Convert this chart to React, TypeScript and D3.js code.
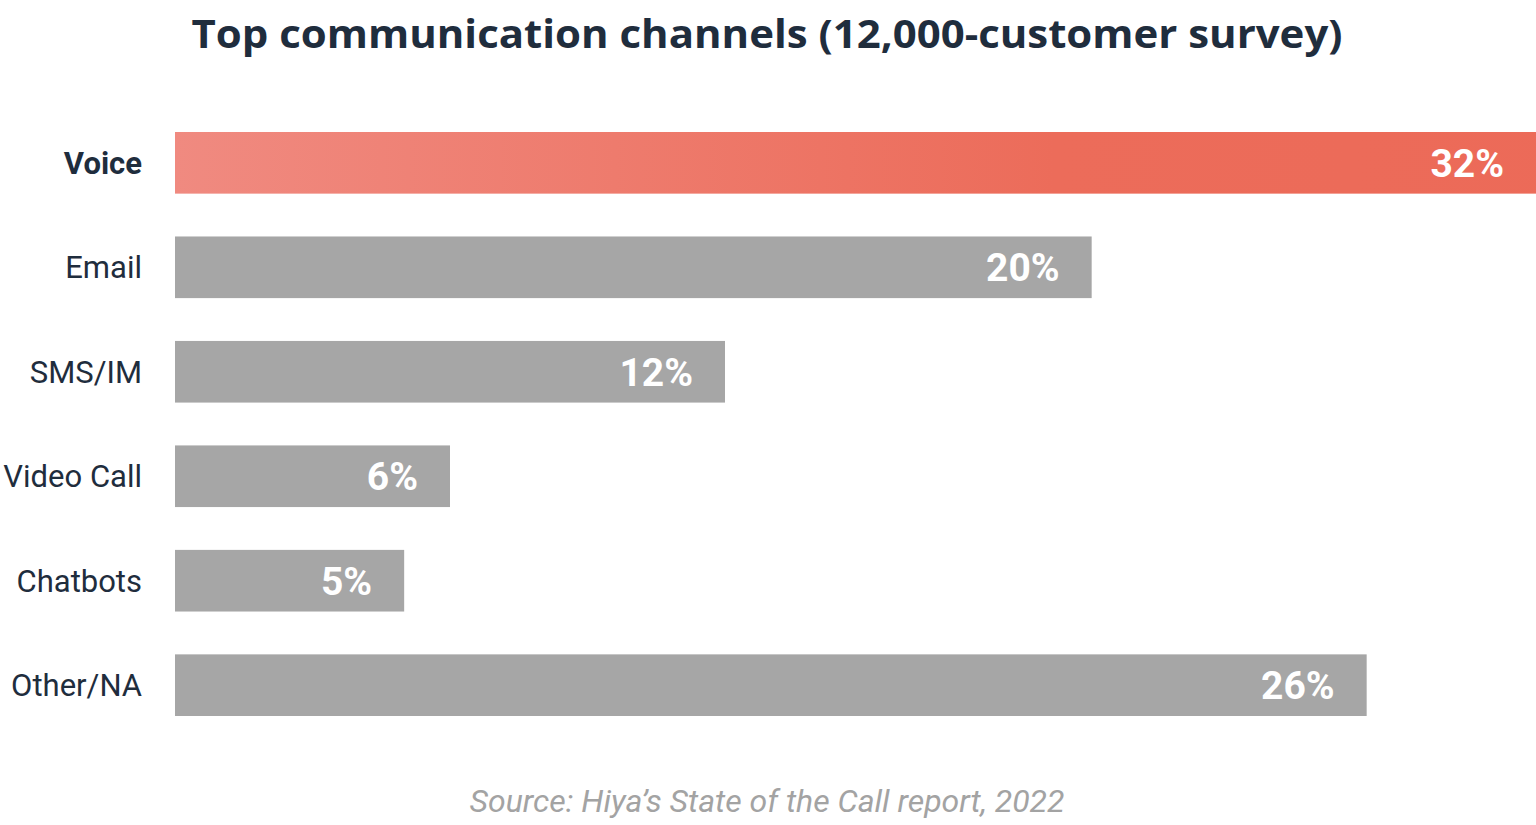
import React from 'react';
import * as d3 from 'd3';

const channels = ['Voice', 'Email', 'SMS/IM', 'Video Call', 'Chatbots', 'Other/NA'];
const shares = [32, 20, 12, 6, 5, 26];
const highlight = 'Voice';

const title = 'Top communication channels (12,000-customer survey)';
const source = 'Source: Hiya\u2019s State of the Call report, 2022';

const W = 1536;
const H = 825;

export default function App() {
  const x = d3.scaleLinear().domain([0, 30]).range([175, 175 + 1375]);
  const y = d3.scaleBand<string>()
    .domain(channels)
    .range([132, 716])
    .paddingInner(0.41)
    .paddingOuter(0);

  const rows = channels.map((c, i) => ({ name: c, value: shares[i] }));

  return (
    <div style={{ position: 'absolute', left: 0, top: 0, background: '#fff' }}>
      <svg width={W} height={H} style={{ display: 'block' }}>
        <defs>
          <linearGradient id="voiceGrad" x1="0" x2="1" y1="0" y2="0">
            <stop offset="0%" stopColor="#f08a80" />
            <stop offset="60%" stopColor="#ec6c5a" />
            <stop offset="100%" stopColor="#ec6a58" />
          </linearGradient>
        </defs>
        <rect width={W} height={H} fill="#fff" />

        <text
          x={767}
          y={48}
          textAnchor="middle"
          fontFamily="'Open Sans', sans-serif"
          fontWeight={700}
          fontSize={40}
          fill="#1f2d3d"
          textLength={1151}
          lengthAdjust="spacingAndGlyphs"
        >
          {title}
        </text>

        {rows.map(d => {
          const y0 = y(d.name)!;
          const bw = y.bandwidth();
          const x1 = Math.min(x(d.value), W);
          const isHi = d.name === highlight;
          return (
            <g key={d.name}>
              <rect
                x={x(0)}
                y={y0}
                width={x(d.value) - x(0)}
                height={bw}
                fill={isHi ? 'url(#voiceGrad)' : '#a6a6a6'}
              />
              <text
                x={142}
                y={y0 + bw / 2}
                dy="0.35em"
                textAnchor="end"
                fontFamily="Roboto, sans-serif"
                fontWeight={isHi ? 700 : 400}
                fontSize={31}
                fill="#1f2d3d"
              >
                {d.name}
              </text>
              <text
                x={x1 - 32}
                y={y0 + bw / 2}
                dy="0.36em"
                textAnchor="end"
                fontFamily="Roboto, sans-serif"
                fontWeight={700}
                fontSize={39}
                fill="#fff"
              >
                {d.value}%
              </text>
            </g>
          );
        })}

        <text
          x={767}
          y={812}
          textAnchor="middle"
          fontFamily="Roboto, sans-serif"
          fontStyle="italic"
          fontSize={32}
          fill="#a3a3a3"
        >
          {source}
        </text>
      </svg>
    </div>
  );
}
